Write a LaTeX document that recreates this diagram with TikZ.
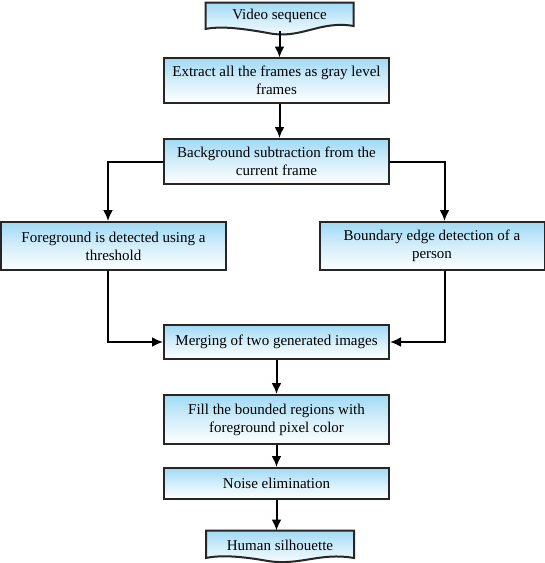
\documentclass[tikz,border=0pt]{standalone}
\usepackage{fontspec}
\setmainfont{Liberation Serif}
\newfontfamily\tnr{Liberation Serif}
\usetikzlibrary{arrows.meta,calc}
\definecolor{topblue}{RGB}{160,218,245}
\definecolor{midblue}{RGB}{212,238,250}
\tikzset{
  boxstyle/.style={draw=black!85, line width=2pt, top color=topblue, bottom color=white, middle color=midblue,
    minimum width=225pt, align=center, inner sep=0pt, font=\tnr\fontsize{15}{18}\selectfont},
  docstyle/.style={inner sep=0pt, minimum width=148pt, align=center, font=\tnr\fontsize{15}{18}\selectfont},
  arr/.style={line width=2pt, -{Latex[length=11pt,width=10pt]}},
}
\begin{document}
\begin{tikzpicture}[x=1pt,y=-1pt]
\useasboundingbox (0,0) rectangle (545,563);
% document shapes
\path[top color=topblue, bottom color=white, middle color=midblue, draw=black!85, line width=2pt]
  (205.5,2.5) -- (353.5,2.5) -- (353.5,26) .. controls (320,20) and (300,40) .. (268,33) .. controls (240,28) and (220,26) .. (205.5,29) -- cycle;
\node[docstyle, minimum height=22pt] (video) at (279.5,16) {Video sequence};
\path[top color=topblue, bottom color=white, middle color=midblue, draw=black!85, line width=2pt]
  (206,530.5) -- (354,530.5) -- (354,558) .. controls (320,552) and (300,566) .. (268,561) .. controls (240,556) and (220,555) .. (206,558) -- cycle;
\node[docstyle, minimum height=22pt] (human) at (280,545) {Human silhouette};
% boxes
\node[boxstyle, minimum height=45pt] (extract) at (276.5,80.5) {Extract all the frames as gray level\\frames};
\node[boxstyle, minimum height=45pt] (backg) at (276.5,161.5) {Background subtraction from the\\current frame};
\node[boxstyle, minimum height=48pt] (fore) at (113.5,246) {Foreground is detected using a\\threshold};
\node[boxstyle, minimum height=48pt] (bound) at (432,246) {Boundary edge detection of a\\person};
\node[boxstyle, minimum height=34pt] (merge) at (276.5,342) {Merging of two generated images};
\node[boxstyle, minimum height=49pt] (fill) at (276.5,419.5) {Fill the bounded regions with\\foreground pixel color};
\node[boxstyle, minimum height=31pt] (noise) at (276.5,483.5) {Noise elimination};
% connectors
\draw[arr] (279.5,31) -- (279.5,57.5);
\draw[arr] ([xshift=3pt]extract.south) -- ([xshift=3pt]backg.north);
\draw[arr] (backg.west) -| ([xshift=-5.5pt]fore.north);
\draw[arr] (backg.east) -| ([xshift=12.5pt]bound.north);
\draw[arr] ([xshift=-5.5pt]fore.south) |- (merge.west);
\draw[arr] ([xshift=12.5pt]bound.south) |- (merge.east);
\draw[arr] (merge.south) -- (fill.north);
\draw[arr] (fill.south) -- (noise.north);
\draw[arr] (noise.south) -- (276.5,530.5);
\end{tikzpicture}
\end{document}
